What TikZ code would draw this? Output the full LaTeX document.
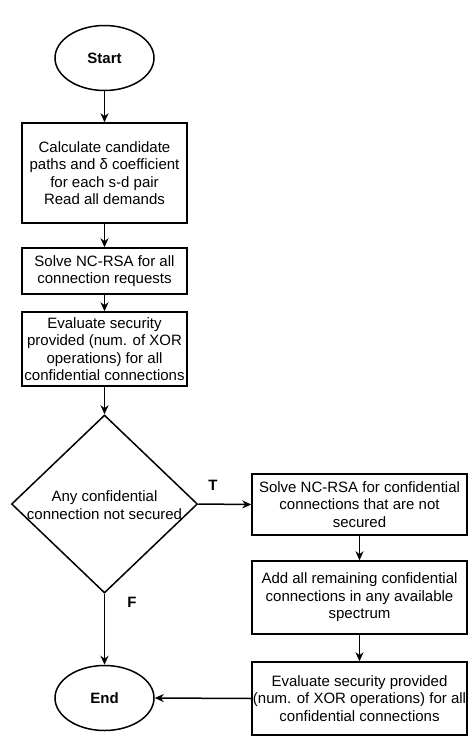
\documentclass[tikz,border=0pt]{standalone}
\usepackage{fontspec}
\setmainfont{Liberation Sans}
\usetikzlibrary{shapes.geometric,arrows.meta}

\begin{document}
\begin{tikzpicture}[
  x=1pt, y=-1pt,
  font=\fontsize{15}{17.5}\selectfont,
  every node/.style={draw=black, line width=1.5pt, align=center, inner sep=0pt},
  term/.style={ellipse, minimum width=99pt, minimum height=65pt, font=\fontsize{15}{17.5}\selectfont\bfseries},
  proc/.style={rectangle, minimum width=165pt},
  procr/.style={rectangle, minimum width=215pt},
  decide/.style={diamond, minimum width=186pt, minimum height=178pt},
  tag/.style={draw=none, font=\fontsize{15}{17.5}\selectfont\bfseries},
  edge/.style={draw=black, line width=1.5pt, -{Stealth[length=9pt,width=8pt]}}
]
\useasboundingbox (0,0) rectangle (474,745);

\node[term] (start) at (104.5, 58) {Start};
\node[proc, minimum height=100pt] (calc) at (104.5, 173) {Calculate candidate\\paths and δ coefficient\\for each s-d pair\\Read all demands};
\node[proc, minimum height=46pt] (solve) at (104.5, 271) {Solve NC-RSA for all\\connection requests};
\node[proc, minimum height=74pt] (eval) at (104.5, 349) {Evaluate security\\provided (num. of XOR\\operations) for all\\confidential connections};
\node[decide] (dec) at (104.5, 504) {};
\node[draw=none] (dectext) at (104.5, 505) {Any confidential\\connection not secured};
\node[term] (end) at (104.5, 698) {End};

\node[procr, minimum height=61pt] (solvec) at (359.5, 504.5) {Solve NC-RSA for confidential\\connections that are not\\secured};
\node[procr, minimum height=73pt] (addrem) at (359.5, 597.5) {Add all remaining confidential\\connections in any available\\spectrum};
\node[procr, minimum height=73pt] (evalc) at (359.5, 698.5) {Evaluate security provided\\(num. of XOR operations) for all\\confidential connections};

\node[tag] (t) at (213, 485) {T};
\node[tag] (f) at (132, 602) {F};

\draw[edge] (start) -- (calc);
\draw[edge] (calc) -- (solve);
\draw[edge] (solve) -- (eval);
\draw[edge] (eval) -- (dec);
\draw[edge] (dec.east) -- (solvec.west);
\draw[edge] (dec.south) -- (end);
\draw[edge] (solvec) -- (addrem);
\draw[edge] (addrem) -- (evalc);
\draw[edge] (evalc.west) -- (end.east);
\end{tikzpicture}
\end{document}
